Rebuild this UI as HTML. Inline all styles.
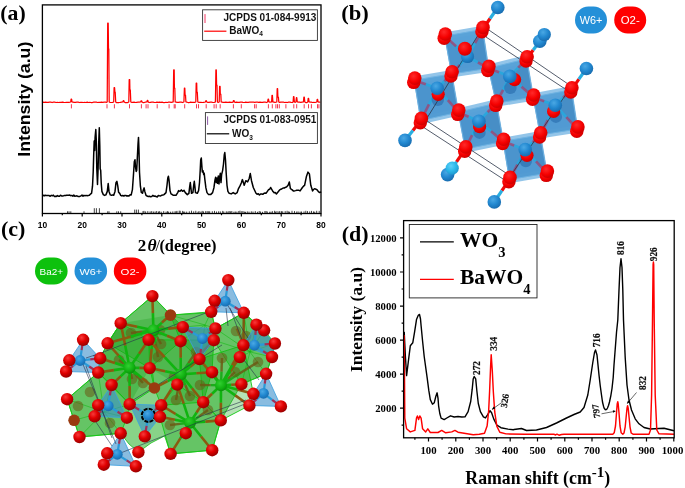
<!DOCTYPE html>
<html><head><meta charset="utf-8"><title>Figure</title>
<style>html,body{margin:0;padding:0;background:#fff;}svg{display:block}</style></head>
<body>
<svg width="685" height="488" viewBox="0 0 685 488">
<rect width="685" height="488" fill="#fff"/>
<defs>
<radialGradient id="gR" cx="0.4" cy="0.35" r="0.7"><stop offset="0" stop-color="#ff2a2a"/><stop offset="0.6" stop-color="#f50000"/><stop offset="1" stop-color="#c80000"/></radialGradient>
<radialGradient id="gR2" cx="0.38" cy="0.32" r="0.75"><stop offset="0" stop-color="#f83a3a"/><stop offset="0.45" stop-color="#e00000"/><stop offset="1" stop-color="#8c0000"/></radialGradient>
<radialGradient id="gB" cx="0.4" cy="0.33" r="0.75"><stop offset="0" stop-color="#4aa8e4"/><stop offset="0.5" stop-color="#2288d0"/><stop offset="1" stop-color="#1666a8"/></radialGradient>
<radialGradient id="gC" cx="0.4" cy="0.33" r="0.75"><stop offset="0" stop-color="#60d0f8"/><stop offset="0.5" stop-color="#2cb8ea"/><stop offset="1" stop-color="#1a90c8"/></radialGradient>
<radialGradient id="gG" cx="0.4" cy="0.35" r="0.75"><stop offset="0" stop-color="#30d030"/><stop offset="0.6" stop-color="#10b010"/><stop offset="1" stop-color="#0a800a"/></radialGradient>
</defs>
<g id="pa">
<text x="0.3" y="19.8" font-family="Liberation Serif, Times New Roman, serif" font-weight="bold" font-size="22" textLength="25.4" lengthAdjust="spacingAndGlyphs">(a)</text>
<text transform="translate(30,156.7) rotate(-90)" font-family="Liberation Sans, Arial, sans-serif" font-weight="bold" font-size="15.7" textLength="115" lengthAdjust="spacingAndGlyphs">Intensity (a.u)</text>
<path d="M71.4 104.2V108.4M107 104.2V108.4M114.4 104.2V108.4M129.5 104.2V108.4M141.4 104.2V108.4M146.1 104.2V108.4M148 104.2V108.4M157.2 104.2V108.4M169.1 104.2V108.4M174.2 104.2V108.4M175.2 104.2V108.4M184.7 104.2V108.4M196.5 104.2V108.4M198.5 104.2V108.4M206.2 104.2V108.4M214.1 104.2V108.4M216.2 104.2V108.4M220.2 104.2V108.4M233.4 104.2V108.4M241.3 104.2V108.4M254.6 104.2V108.4M256.2 104.2V108.4M268.4 104.2V108.4M272.3 104.2V108.4M275.9 104.2V108.4M277.5 104.2V108.4M279.3 104.2V108.4M285.9 104.2V108.4M293.8 104.2V108.4M296.7 104.2V108.4M304.2 104.2V108.4M308.5 104.2V108.4M311.4 104.2V108.4M317.5 104.2V108.4M318.9 104.2V108.4" stroke="#f5203c" stroke-width="0.9" fill="none"/>
<polyline points="42.5,102.3 43,102.2 44.3,102.3 45.6,102.2 46.9,102.4 48.2,102.4 49.5,102.1 50.8,102.1 52.1,102.5 53.4,102.2 54.7,102.2 56,102.5 57.3,102.3 58.6,102.5 59.9,102.3 61.2,102.4 62.5,102.1 63.8,102.4 65.1,102.5 66.4,102.3 67.7,102.4 69,102.4 70.7,102 71.1,99 71.6,99 72,102 72.9,102.1 74.2,102.4 75.5,102.3 76.8,102.2 78.1,102.1 79.4,102.5 80.7,102.3 82,102.4 83.3,102.5 84.6,102.4 85.9,102.5 87.2,102.2 88.5,102.5 89.8,102.3 91.1,102.5 92.4,102.5 93.7,102.1 95,102.1 96.3,102.2 97.6,102.5 98.9,102.3 100.2,102.4 101.5,102.2 102.8,102.3 104.1,102.2 105.4,102.2 106.7,102.3 107.2,102 107.7,23.2 108.2,23.2 108.5,48.8 108.8,48.8 109.2,102 110,102.3 111.3,102.5 112.6,102.4 113.7,102 114.1,87.7 114.6,87.7 114.9,92 115.2,92 115.7,102 116.4,102.5 117.7,102.5 119,102.5 120.3,102.4 121.6,102.1 122.8,102 123.3,100.6 123.8,100.6 124.2,102 125.1,102.5 126.4,102.5 127.7,102.5 128.8,102 129.2,79.5 129.7,79.5 129.9,89.8 130.3,89.8 130.8,102 131.5,102.3 132.8,102.4 134.1,102.2 135.4,102.5 136.7,102.3 138,102.2 139.3,102.1 140.7,102 141.1,100.8 141.6,100.8 142,102 142.9,102.5 144.2,102.5 145.5,102.1 146.8,102 147.3,100.4 147.8,100.4 148.2,102 149.1,102.5 150.4,102.3 151.7,102.1 153,102.2 154.3,102.4 155.6,102.5 156.9,102.1 158.2,102.4 159.5,102.1 160.8,102.4 162.1,102.2 163.4,102.5 164.7,102.5 166,102.3 167.3,102.5 168.6,102.2 169.9,102.1 171.2,102.3 172.5,102.1 173.2,102 173.7,69.9 174.2,69.9 174.4,88 174.8,88 175.2,102 176,102.1 177.3,102.3 178.6,102.4 179.9,102.1 181.2,102.1 182.5,102.5 183.9,102 184.4,88 184.8,88 185.1,95 185.5,95 185.9,102 186.7,102.2 188,102.5 189.3,102.5 190.6,102.2 191.9,102.3 193.2,102.3 194.5,102.4 195.8,102 196.2,83 196.7,83 196.9,92 197.3,92 197.8,102 198.5,102.3 199.8,102.3 201.1,102.4 202.4,102.5 203.7,102.3 205.4,102 205.9,100.6 206.3,100.6 206.8,102 207.7,102.3 209,102.4 210.3,102.2 211.6,102.2 212.9,102.5 214.2,102.3 215.4,102 215.9,69.9 216.3,69.9 216.6,85 217,85 217.4,102 218.2,102.3 219.2,102 219.6,86.4 220.1,86.4 220.3,94 220.8,94 221.2,102 221.9,102.1 223.2,102.3 224.5,102.3 225.8,102.1 227.1,102.4 228.4,102.4 229.7,102.1 231,102.4 232.3,102.3 233.1,102 233.5,100.5 234,100.5 234.4,102 235.3,102.4 236.6,102.2 237.9,102.4 239.2,102.4 240.5,102.1 241.8,102.1 243.1,102.4 244.4,102.5 245.7,102.2 247,102.3 248.3,102.3 249.6,102.2 250.9,102.2 252.2,102.2 253.5,102.2 254.8,102.3 256.1,102.2 257.4,102.2 258.7,102.4 260,102.1 261.3,102.3 262.6,102.4 263.9,102.2 265.2,102.2 266.5,102.5 267.6,102 268.1,99 268.5,99 269,102 269.9,102.2 271.6,102 272,95.4 272.4,95.4 272.9,102 273.8,102.1 275.1,102.3 276.8,102 277.2,88.7 277.6,88.7 277.9,97 278.4,97 278.8,102 279.5,102.4 280.8,102.1 282.1,102.2 283.4,102.2 284.7,102.5 286,102.3 287.3,102.5 288.6,102.1 289.9,102.2 291.2,102.4 292.5,102.5 293.1,102 293.5,96.6 293.9,96.6 294.4,102 295.3,102.3 295.9,102 296.4,97.7 296.8,97.7 297.3,102 298.2,102.2 299.5,102.1 300.8,102.3 302.1,102.1 303.4,102 303.9,97 304.3,97 304.8,102 305.7,102.5 307,102.5 307.8,102 308.2,98.4 308.6,98.4 309.1,102 310,102.1 311.3,102.2 312.6,102.5 313.9,102.4 315.2,102.5 316.8,102 317.2,99.3 317.6,99.3 318.1,102 319,102.2 320.3,102.1" fill="none" stroke="#ff0000" stroke-width="1.25" stroke-linejoin="round"/>
<polyline points="42,195.4 43.1,195.2 44.1,195.9 45.1,195.2 46.1,195.4 47.2,195.5 48.2,195.5 49.2,195.6 50.2,196.3 51.3,195.3 52.3,195.8 53.3,195.1 54.3,196.4 55.4,196.2 56.4,196.4 57.4,195.6 58.4,196.2 59.5,196.2 60.5,195.2 61.5,195.9 62.5,195.9 63.6,195.7 64.6,195.4 65.6,195.5 66.6,195.2 67.7,195.3 68.7,195.2 69.7,195 70.7,195.7 71.8,195.4 72.8,196.1 73.8,195.1 74.8,196.3 75.9,196.1 76.9,195.8 77.9,196.4 78.9,196.4 79.9,196.4 80.9,195.9 82,195.1 83,196.1 84,195.3 85,195.8 86.1,195.4 87.2,195.8 88.3,195.4 89.4,195.3 90.5,194.1 91.6,193.2 92.5,186.2 93.2,172.3 93.7,154.8 94.2,140.9 94.7,150.5 95.1,137.4 95.8,129.6 96.3,140.9 96.8,168.8 97.5,184.5 98.1,168.8 98.6,146.1 99.3,127.8 99.8,146.1 100.2,168.8 100.7,170.5 101.2,182.7 101.9,191.4 103.3,194.6 104.6,195.4 105.9,194.9 107.3,191.4 108.2,183.6 109,191.4 110.3,194.9 111.4,195.2 112.6,194.9 113.7,195.3 115,191.4 116,182.7 116.9,181.3 117.8,186.2 118.6,192.3 119.7,193.4 120.7,195.3 121.7,195.9 122.7,195.5 123.8,196 124.8,195.5 125.8,195.4 126.8,196 127.9,195.7 129,195.9 130.1,194.7 131.2,194.9 132.4,189.7 133.4,175.7 134.3,161.8 135,159.7 135.5,167 136.2,171.4 136.7,170.5 137.3,158.3 138,144.4 138.5,137.4 139,151.4 139.5,172.3 140.4,186.2 141.3,192.3 142.5,193.2 143.4,189.7 144.1,187.9 144.8,191.4 146,195.3 147.1,196 148.3,196.5 149.5,196.3 150.6,196.7 151.7,196.6 152.8,195.4 153.9,196.2 155,196 156,196.6 157.2,196.9 158.3,195.6 159.5,195.8 160.7,195.9 161.8,195.2 162.9,195.1 164,194.6 166,192.6 167,185.3 167.8,177.9 168.4,176.2 169,179.9 170,190.6 171,193.9 172.2,194.5 173.3,195.3 174.6,195.2 176,195.3 177.7,192.6 178.6,190.6 180,191.3 181.3,189.9 182.6,191.3 184,190.3 185.3,192.6 187.3,194.6 188.9,193.3 189.7,186.6 190.3,182.6 190.9,187.9 191.5,193.3 192.9,192.6 193.7,185.3 194.3,181.3 194.9,186.6 195.5,192.6 197.3,193.3 198.6,190.6 199.5,182.6 200.2,170.6 200.7,160 201.3,158 201.8,165.3 202.3,172 203,170.6 203.7,174.6 204.2,173.3 204.9,179.9 205.9,187.9 207,192.6 208.6,194.6 210.6,194.6 212.6,192.6 213.9,187.9 215,179.9 215.6,177.3 216.3,182.6 217,177.9 217.6,183.3 218.3,176 219,183.9 219.6,177.3 220.3,173.3 221,182.6 221.6,174.6 222.6,170.6 223.5,164 224.3,154.6 224.8,152.6 225.5,160 226.2,173.3 227,185.3 227.9,191.3 229.2,193.3 231.2,193.9 233.2,192.6 235.2,193.9 237.2,192.6 238.5,188.6 240,185.9 241.3,183 242.4,179.6 244.2,185.3 245.8,180.7 247.6,181.9 249.2,178.5 250.3,173.5 251.5,180.7 253.3,187.5 256,193.2 257.1,194.2 258.3,193.7 259.4,195 260.5,194.1 261.6,194 262.8,194.3 263.9,193.4 265,193 266.2,193.2 268.4,189.8 269.6,189.3 270.7,187.5 273,191.6 274.1,192.8 275.2,192.5 276.4,193.9 279.8,189.8 280.9,189.2 282,188.7 283.1,188.1 284.3,188 285.4,187.3 286.5,187.1 288.1,185.3 289.3,181.9 290.4,188.7 291.9,189.6 293.3,190.9 294.5,190.9 295.6,190.6 296.7,190.2 297.9,190.3 299,190.3 300.1,190.9 302.4,187.5 303.5,186.2 304.6,185.3 306.5,176.2 308,172.1 309.4,173.9 310.8,185.3 312.6,190.9 313.7,189.3 314.8,188.7 316,189.3 317.1,189.8 318.2,191.4 319.4,192.5 321.2,192" fill="none" stroke="#000" stroke-width="1.5" stroke-linejoin="round"/>
<path d="M94.3 208.2V213M96.4 208.2V213M99.4 208.2V213M134.7 209.6V213M136.4 209.6V213M138.4 209.6V213" stroke="#111" stroke-width="0.8" fill="none"/>
<path d="M67.5 211.3V213M69 211.3V213M70.8 211.3V213M84 211.3V213M107.7 211.3V213M109 211.3V213M116.8 211.3V213M118.5 211.3V213M120.7 211.3V213M143 211.1V213M144 210.9V213M145.6 211.4V213M147.8 211.1V213M150.1 211.4V213M151.7 211.1V213M153.4 211.5V213M155.1 211.5V213M156.7 211V213M158.5 211.5V213M159.6 211.2V213M161.2 211.7V213M163.7 211.1V213M166.1 211.6V213M167.5 211.2V213M168.6 211.6V213M170.6 211.7V213M172.8 211.4V213M175 211.3V213M176.1 211.3V213M177 210.9V213M179.2 210.7V213M180.2 210.8V213M182.6 210.9V213M183.6 211.6V213M184.7 211.6V213M186.7 211.6V213M189.3 211.3V213M191.5 210.7V213M193.7 211.3V213M195.8 210.8V213M198 211.7V213M199 211.1V213M200.9 211.6V213M202.2 210.9V213M203.5 211.4V213M205.7 211.1V213M207.2 211.1V213M208.7 211.2V213M209.7 211.3V213M212.3 211.2V213M214.5 210.9V213M216.5 211.5V213M218.6 211.3V213M220.3 211.4V213M222.7 210.9V213M223.8 211.5V213M226.3 211.3V213M227.9 211.5V213M229.1 211V213M230.4 211.3V213M231.8 211V213M233.9 211.7V213M235.3 211.5V213M236.9 211.6V213M238.8 211V213M240 210.7V213M241.8 211.1V213M243 211.1V213M244.4 211.6V213M245.5 211.8V213M247.3 211.4V213M249 211.6V213M251.3 211.3V213M253 211.5V213M255.3 211.1V213M257.5 211.8V213M259.2 211V213M260.5 211.5V213M262.5 211.8V213M264.9 211V213M266.1 211V213M267.3 211.5V213M269.7 211.7V213M271 211.7V213M272.4 211.2V213M274.6 210.8V213M275.6 211.6V213M277 211.1V213M278.9 211.4V213M279.8 211.1V213M281.5 211.2V213M282.7 211.3V213M285.2 211.1V213M287.1 210.8V213M288.4 211.4V213M289.5 211.7V213M292 210.8V213M294.5 211.1V213M296.7 211.5V213M298.1 211.4V213M300.1 211.6V213M301.5 211.5V213M304 211.4V213M305.8 210.8V213M307.5 211.1V213M309.7 211.4V213M311.5 210.9V213M313.5 211.4V213M314.7 211.7V213M316.7 210.8V213M319.2 210.9V213" stroke="#111" stroke-width="0.8" fill="none"/>
<rect x="42.4" y="4.9" width="278.6" height="208.6" fill="none" stroke="#000" stroke-width="1.3"/>
<path d="M42.4 213.5V216.6M62.3 213.5V215.3M82.2 213.5V216.6M102.1 213.5V215.3M122 213.5V216.6M141.9 213.5V215.3M161.8 213.5V216.6M181.7 213.5V215.3M201.6 213.5V216.6M221.5 213.5V215.3M241.4 213.5V216.6M261.3 213.5V215.3M281.2 213.5V216.6M301.1 213.5V215.3M321 213.5V216.6" stroke="#000" stroke-width="1.2" fill="none"/>
<text x="42.4" y="228.4" text-anchor="middle" font-family="Liberation Sans, Arial, sans-serif" font-weight="bold" font-size="9.8" textLength="9.4" lengthAdjust="spacingAndGlyphs">10</text>
<text x="82.2" y="228.4" text-anchor="middle" font-family="Liberation Sans, Arial, sans-serif" font-weight="bold" font-size="9.8" textLength="9.4" lengthAdjust="spacingAndGlyphs">20</text>
<text x="122" y="228.4" text-anchor="middle" font-family="Liberation Sans, Arial, sans-serif" font-weight="bold" font-size="9.8" textLength="9.4" lengthAdjust="spacingAndGlyphs">30</text>
<text x="161.8" y="228.4" text-anchor="middle" font-family="Liberation Sans, Arial, sans-serif" font-weight="bold" font-size="9.8" textLength="9.4" lengthAdjust="spacingAndGlyphs">40</text>
<text x="201.6" y="228.4" text-anchor="middle" font-family="Liberation Sans, Arial, sans-serif" font-weight="bold" font-size="9.8" textLength="9.4" lengthAdjust="spacingAndGlyphs">50</text>
<text x="241.4" y="228.4" text-anchor="middle" font-family="Liberation Sans, Arial, sans-serif" font-weight="bold" font-size="9.8" textLength="9.4" lengthAdjust="spacingAndGlyphs">60</text>
<text x="281.2" y="228.4" text-anchor="middle" font-family="Liberation Sans, Arial, sans-serif" font-weight="bold" font-size="9.8" textLength="9.4" lengthAdjust="spacingAndGlyphs">70</text>
<text x="321" y="228.4" text-anchor="middle" font-family="Liberation Sans, Arial, sans-serif" font-weight="bold" font-size="9.8" textLength="9.4" lengthAdjust="spacingAndGlyphs">80</text>
<text y="250.8" font-family="Liberation Serif, Times New Roman, serif" font-weight="bold" font-size="17"><tspan x="137.8">2</tspan><tspan x="147.6" font-style="italic" font-size="17.5">θ</tspan><tspan x="155.6" font-weight="normal" font-size="16.5">/</tspan><tspan x="159.4" textLength="57" lengthAdjust="spacingAndGlyphs">(degree)</tspan></text>
<rect x="202.6" y="9.8" width="114.8" height="30.6" fill="#fff" stroke="#333" stroke-width="0.9"/>
<path d="M205 14.1V23" stroke="#f02050" stroke-width="0.9"/>
<path d="M204.2 31.2H226.4" stroke="#f00" stroke-width="1.2"/>
<text x="223.5" y="20.7" font-family="Liberation Sans, Arial, sans-serif" font-weight="bold" font-size="10" fill="#111">JCPDS 01-084-9913</text>
<text x="229.2" y="33.9" font-family="Liberation Sans, Arial, sans-serif" font-weight="bold" font-size="10" fill="#111">BaWO<tspan font-size="6.5" dy="2.2">4</tspan></text>
<rect x="205.4" y="112.6" width="112" height="30.9" fill="#fff" stroke="#333" stroke-width="0.9"/>
<path d="M207.6 116.4V124.9" stroke="#703090" stroke-width="0.8"/>
<path d="M206.8 133.8H229.2" stroke="#000" stroke-width="1.2"/>
<text x="223.5" y="123.1" font-family="Liberation Sans, Arial, sans-serif" font-weight="bold" font-size="10" fill="#111">JCPDS 01-083-0951</text>
<text x="232" y="137.4" font-family="Liberation Sans, Arial, sans-serif" font-weight="bold" font-size="10" fill="#111">WO<tspan font-size="6.5" dy="2.2">3</tspan></text>
</g>
<g id="pb">
<text x="341.2" y="20" font-family="Liberation Serif, Times New Roman, serif" font-weight="bold" font-size="22" textLength="27.6" lengthAdjust="spacingAndGlyphs">(b)</text>
<rect x="575" y="6.5" width="32" height="27" rx="13.5" fill="#2490d8"/>
<rect x="614.2" y="6.5" width="32" height="27" rx="13.5" fill="#ff0000"/>
<text x="591" y="23.6" text-anchor="middle" font-family="Liberation Sans, Arial, sans-serif" font-size="10.2" textLength="22.6" lengthAdjust="spacingAndGlyphs" fill="#fff">W6+</text>
<text x="630.2" y="23.6" text-anchor="middle" font-family="Liberation Sans, Arial, sans-serif" font-size="10.2" textLength="19" lengthAdjust="spacingAndGlyphs" fill="#fff">O2-</text>
<path d="M482.5 29.5L490.1 18.5" stroke="#ee0a0a" stroke-width="3.2"/>
<path d="M490.1 18.5L497.8 7.5" stroke="#2aaee0" stroke-width="3.2"/>
<path d="M526.6 58.8L533.2 50" stroke="#ee0a0a" stroke-width="3.2"/>
<path d="M533.2 50L539.8 41.2" stroke="#2aaee0" stroke-width="3.2"/>
<path d="M571.4 89.8L578.9 79.2" stroke="#ee0a0a" stroke-width="3.2"/>
<path d="M578.9 79.2L586.4 68.5" stroke="#2aaee0" stroke-width="3.2"/>
<path d="M420.9 120.5L412.9 130.4" stroke="#ee0a0a" stroke-width="3.2"/>
<path d="M412.9 130.4L405 140.4" stroke="#2aaee0" stroke-width="3.2"/>
<path d="M465.3 149L456.5 161.8" stroke="#ee0a0a" stroke-width="3.2"/>
<path d="M456.5 161.8L447.6 174.6" stroke="#2aaee0" stroke-width="3.2"/>
<path d="M509.5 179.5L501.9 190.7" stroke="#ee0a0a" stroke-width="3.2"/>
<path d="M501.9 190.7L494.3 201.9" stroke="#2aaee0" stroke-width="3.2"/>
<circle cx="497.8" cy="7.5" r="6.8" fill="url(#gB)"/>
<circle cx="539.8" cy="41.2" r="6.8" fill="url(#gB)"/>
<circle cx="586.4" cy="68.5" r="6.8" fill="url(#gB)"/>
<circle cx="405" cy="140.4" r="6.8" fill="url(#gB)"/>
<circle cx="447.6" cy="174.6" r="6.8" fill="url(#gB)"/>
<circle cx="494.3" cy="201.9" r="6.8" fill="url(#gB)"/>
<circle cx="544.3" cy="34.5" r="6.6" fill="url(#gB)"/>
<circle cx="452.2" cy="168.2" r="6.6" fill="url(#gC)"/>
<polygon points="481.3,25.9 487.2,64.7 450.4,70.3 443.6,32.5" fill="#6fb2e2" fill-opacity="0.75"/>
<polygon points="483.9,32.9 489.8,71.7 453,77.3 446.2,39.5" fill="#6fb2e2" fill-opacity="0.75"/>
<polygon points="444.8,36.1 482.5,29.5 467.5,56.5" fill="#539ed6" fill-opacity="0.9" stroke="#539ed6" stroke-width="0.4"/>
<polygon points="482.5,29.5 488.4,68.3 467.5,56.5" fill="#4189c2" fill-opacity="0.9" stroke="#4189c2" stroke-width="0.4"/>
<polygon points="488.4,68.3 451.6,73.9 467.5,56.5" fill="#4d97d0" fill-opacity="0.9" stroke="#4d97d0" stroke-width="0.4"/>
<polygon points="451.6,73.9 444.8,36.1 467.5,56.5" fill="#4690ca" fill-opacity="0.9" stroke="#4690ca" stroke-width="0.4"/>
<polygon points="482.5,29.5 488.4,68.3 451.6,73.9 444.8,36.1" fill="none" stroke="#6fb4e2" stroke-width="0.9" stroke-opacity="0.9"/>
<path d="M467.5 56.5L475 43" stroke="#2aa6dc" stroke-width="2.6"/>
<path d="M475 43L482.5 29.5" stroke="#a83a66" stroke-width="2.6" stroke-opacity="0.7"/>
<path d="M467.5 56.5L456.1 46.3" stroke="#2aa6dc" stroke-width="2.6"/>
<path d="M456.1 46.3L444.8 36.1" stroke="#a83a66" stroke-width="2.6" stroke-opacity="0.7"/>
<path d="M467.5 56.5L477.9 62.4" stroke="#2aa6dc" stroke-width="2.6"/>
<path d="M477.9 62.4L488.4 68.3" stroke="#a83a66" stroke-width="2.6" stroke-opacity="0.7"/>
<path d="M467.5 56.5L459.6 65.2" stroke="#2aa6dc" stroke-width="2.6"/>
<path d="M459.6 65.2L451.6 73.9" stroke="#a83a66" stroke-width="2.6" stroke-opacity="0.7"/>
<polygon points="450.4,70.3 457.1,108.6 419.7,116.9 413.1,76.6" fill="#6fb2e2" fill-opacity="0.75"/>
<polygon points="453,77.3 459.7,115.6 422.3,123.9 415.7,83.6" fill="#6fb2e2" fill-opacity="0.75"/>
<polygon points="414.3,80.2 451.6,73.9 437.2,88.3" fill="#539ed6" fill-opacity="0.9" stroke="#539ed6" stroke-width="0.4"/>
<polygon points="451.6,73.9 458.3,112.2 437.2,88.3" fill="#4189c2" fill-opacity="0.9" stroke="#4189c2" stroke-width="0.4"/>
<polygon points="458.3,112.2 420.9,120.5 437.2,88.3" fill="#4d97d0" fill-opacity="0.9" stroke="#4d97d0" stroke-width="0.4"/>
<polygon points="420.9,120.5 414.3,80.2 437.2,88.3" fill="#4690ca" fill-opacity="0.9" stroke="#4690ca" stroke-width="0.4"/>
<polygon points="451.6,73.9 458.3,112.2 420.9,120.5 414.3,80.2" fill="none" stroke="#6fb4e2" stroke-width="0.9" stroke-opacity="0.9"/>
<path d="M437.2 88.3L444.4 81.1" stroke="#2aa6dc" stroke-width="2.6"/>
<path d="M444.4 81.1L451.6 73.9" stroke="#a83a66" stroke-width="2.6" stroke-opacity="0.7"/>
<path d="M437.2 88.3L425.8 84.2" stroke="#2aa6dc" stroke-width="2.6"/>
<path d="M425.8 84.2L414.3 80.2" stroke="#a83a66" stroke-width="2.6" stroke-opacity="0.7"/>
<path d="M437.2 88.3L447.8 100.2" stroke="#2aa6dc" stroke-width="2.6"/>
<path d="M447.8 100.2L458.3 112.2" stroke="#a83a66" stroke-width="2.6" stroke-opacity="0.7"/>
<path d="M437.2 88.3L429 104.4" stroke="#2aa6dc" stroke-width="2.6"/>
<path d="M429 104.4L420.9 120.5" stroke="#a83a66" stroke-width="2.6" stroke-opacity="0.7"/>
<polygon points="525.4,55.2 532,93.5 495.1,99.6 487.2,64.7" fill="#6fb2e2" fill-opacity="0.75"/>
<polygon points="528,62.2 534.6,100.5 497.7,106.6 489.8,71.7" fill="#6fb2e2" fill-opacity="0.75"/>
<polygon points="488.4,68.3 526.6,58.8 509.8,76.4" fill="#539ed6" fill-opacity="0.9" stroke="#539ed6" stroke-width="0.4"/>
<polygon points="526.6,58.8 533.2,97.1 509.8,76.4" fill="#4189c2" fill-opacity="0.9" stroke="#4189c2" stroke-width="0.4"/>
<polygon points="533.2,97.1 496.3,103.2 509.8,76.4" fill="#4d97d0" fill-opacity="0.9" stroke="#4d97d0" stroke-width="0.4"/>
<polygon points="496.3,103.2 488.4,68.3 509.8,76.4" fill="#4690ca" fill-opacity="0.9" stroke="#4690ca" stroke-width="0.4"/>
<polygon points="526.6,58.8 533.2,97.1 496.3,103.2 488.4,68.3" fill="none" stroke="#6fb4e2" stroke-width="0.9" stroke-opacity="0.9"/>
<path d="M509.8 76.4L518.2 67.6" stroke="#2aa6dc" stroke-width="2.6"/>
<path d="M518.2 67.6L526.6 58.8" stroke="#a83a66" stroke-width="2.6" stroke-opacity="0.7"/>
<path d="M509.8 76.4L499.1 72.3" stroke="#2aa6dc" stroke-width="2.6"/>
<path d="M499.1 72.3L488.4 68.3" stroke="#a83a66" stroke-width="2.6" stroke-opacity="0.7"/>
<path d="M509.8 76.4L521.5 86.8" stroke="#2aa6dc" stroke-width="2.6"/>
<path d="M521.5 86.8L533.2 97.1" stroke="#a83a66" stroke-width="2.6" stroke-opacity="0.7"/>
<path d="M509.8 76.4L503.1 89.8" stroke="#2aa6dc" stroke-width="2.6"/>
<path d="M503.1 89.8L496.3 103.2" stroke="#a83a66" stroke-width="2.6" stroke-opacity="0.7"/>
<polygon points="495.1,99.6 502,137.8 464.1,145.4 457.1,108.6" fill="#6fb2e2" fill-opacity="0.75"/>
<polygon points="497.7,106.6 504.6,144.8 466.7,152.4 459.7,115.6" fill="#6fb2e2" fill-opacity="0.75"/>
<polygon points="458.3,112.2 496.3,103.2 478.9,121.2" fill="#539ed6" fill-opacity="0.9" stroke="#539ed6" stroke-width="0.4"/>
<polygon points="496.3,103.2 503.2,141.4 478.9,121.2" fill="#4189c2" fill-opacity="0.9" stroke="#4189c2" stroke-width="0.4"/>
<polygon points="503.2,141.4 465.3,149 478.9,121.2" fill="#4d97d0" fill-opacity="0.9" stroke="#4d97d0" stroke-width="0.4"/>
<polygon points="465.3,149 458.3,112.2 478.9,121.2" fill="#4690ca" fill-opacity="0.9" stroke="#4690ca" stroke-width="0.4"/>
<polygon points="496.3,103.2 503.2,141.4 465.3,149 458.3,112.2" fill="none" stroke="#6fb4e2" stroke-width="0.9" stroke-opacity="0.9"/>
<path d="M478.9 121.2L487.6 112.2" stroke="#2aa6dc" stroke-width="2.6"/>
<path d="M487.6 112.2L496.3 103.2" stroke="#a83a66" stroke-width="2.6" stroke-opacity="0.7"/>
<path d="M478.9 121.2L468.6 116.7" stroke="#2aa6dc" stroke-width="2.6"/>
<path d="M468.6 116.7L458.3 112.2" stroke="#a83a66" stroke-width="2.6" stroke-opacity="0.7"/>
<path d="M478.9 121.2L491 131.3" stroke="#2aa6dc" stroke-width="2.6"/>
<path d="M491 131.3L503.2 141.4" stroke="#a83a66" stroke-width="2.6" stroke-opacity="0.7"/>
<path d="M478.9 121.2L472.1 135.1" stroke="#2aa6dc" stroke-width="2.6"/>
<path d="M472.1 135.1L465.3 149" stroke="#a83a66" stroke-width="2.6" stroke-opacity="0.7"/>
<polygon points="570.2,86.2 576.2,125.4 539,131.3 532,93.5" fill="#6fb2e2" fill-opacity="0.75"/>
<polygon points="572.8,93.2 578.8,132.4 541.6,138.3 534.6,100.5" fill="#6fb2e2" fill-opacity="0.75"/>
<polygon points="533.2,97.1 571.4,89.8 555.3,105.2" fill="#539ed6" fill-opacity="0.9" stroke="#539ed6" stroke-width="0.4"/>
<polygon points="571.4,89.8 577.4,129 555.3,105.2" fill="#4189c2" fill-opacity="0.9" stroke="#4189c2" stroke-width="0.4"/>
<polygon points="577.4,129 540.2,134.9 555.3,105.2" fill="#4d97d0" fill-opacity="0.9" stroke="#4d97d0" stroke-width="0.4"/>
<polygon points="540.2,134.9 533.2,97.1 555.3,105.2" fill="#4690ca" fill-opacity="0.9" stroke="#4690ca" stroke-width="0.4"/>
<polygon points="571.4,89.8 577.4,129 540.2,134.9 533.2,97.1" fill="none" stroke="#6fb4e2" stroke-width="0.9" stroke-opacity="0.9"/>
<path d="M555.3 105.2L563.3 97.5" stroke="#2aa6dc" stroke-width="2.6"/>
<path d="M563.3 97.5L571.4 89.8" stroke="#a83a66" stroke-width="2.6" stroke-opacity="0.7"/>
<path d="M555.3 105.2L544.2 101.2" stroke="#2aa6dc" stroke-width="2.6"/>
<path d="M544.2 101.2L533.2 97.1" stroke="#a83a66" stroke-width="2.6" stroke-opacity="0.7"/>
<path d="M555.3 105.2L566.3 117.1" stroke="#2aa6dc" stroke-width="2.6"/>
<path d="M566.3 117.1L577.4 129" stroke="#a83a66" stroke-width="2.6" stroke-opacity="0.7"/>
<path d="M555.3 105.2L547.8 120.1" stroke="#2aa6dc" stroke-width="2.6"/>
<path d="M547.8 120.1L540.2 134.9" stroke="#a83a66" stroke-width="2.6" stroke-opacity="0.7"/>
<polygon points="539,131.3 545.7,169.6 508.3,175.9 502,137.8" fill="#6fb2e2" fill-opacity="0.75"/>
<polygon points="541.6,138.3 548.3,176.6 510.9,182.9 504.6,144.8" fill="#6fb2e2" fill-opacity="0.75"/>
<polygon points="503.2,141.4 540.2,134.9 525.2,149.6" fill="#539ed6" fill-opacity="0.9" stroke="#539ed6" stroke-width="0.4"/>
<polygon points="540.2,134.9 546.9,173.2 525.2,149.6" fill="#4189c2" fill-opacity="0.9" stroke="#4189c2" stroke-width="0.4"/>
<polygon points="546.9,173.2 509.5,179.5 525.2,149.6" fill="#4d97d0" fill-opacity="0.9" stroke="#4d97d0" stroke-width="0.4"/>
<polygon points="509.5,179.5 503.2,141.4 525.2,149.6" fill="#4690ca" fill-opacity="0.9" stroke="#4690ca" stroke-width="0.4"/>
<polygon points="540.2,134.9 546.9,173.2 509.5,179.5 503.2,141.4" fill="none" stroke="#6fb4e2" stroke-width="0.9" stroke-opacity="0.9"/>
<path d="M525.2 149.6L532.7 142.2" stroke="#2aa6dc" stroke-width="2.6"/>
<path d="M532.7 142.2L540.2 134.9" stroke="#a83a66" stroke-width="2.6" stroke-opacity="0.7"/>
<path d="M525.2 149.6L514.2 145.5" stroke="#2aa6dc" stroke-width="2.6"/>
<path d="M514.2 145.5L503.2 141.4" stroke="#a83a66" stroke-width="2.6" stroke-opacity="0.7"/>
<path d="M525.2 149.6L536 161.4" stroke="#2aa6dc" stroke-width="2.6"/>
<path d="M536 161.4L546.9 173.2" stroke="#a83a66" stroke-width="2.6" stroke-opacity="0.7"/>
<path d="M525.2 149.6L517.4 164.6" stroke="#2aa6dc" stroke-width="2.6"/>
<path d="M517.4 164.6L509.5 179.5" stroke="#a83a66" stroke-width="2.6" stroke-opacity="0.7"/>
<circle cx="437.8" cy="99.8" r="6.2" fill="#2c70b0" fill-opacity="0.7"/>
<circle cx="510.4" cy="87.9" r="6.2" fill="#2c70b0" fill-opacity="0.7"/>
<circle cx="479.5" cy="132.7" r="6.2" fill="#2c70b0" fill-opacity="0.7"/>
<circle cx="555.9" cy="116.7" r="6.2" fill="#2c70b0" fill-opacity="0.7"/>
<circle cx="525.8" cy="161.1" r="6.2" fill="#2c70b0" fill-opacity="0.7"/>
<path d="M483 26L571.4 86.3" stroke="#2a3346" stroke-width="0.8" fill="none"/>
<path d="M486 37L564.3 88.4" stroke="#2a3346" stroke-width="0.8" fill="none"/>
<path d="M427 121L510.5 176" stroke="#2a3346" stroke-width="0.8" fill="none"/>
<path d="M423 127L503.4 179.2" stroke="#2a3346" stroke-width="0.8" fill="none"/>
<path d="M483 27L424 123" stroke="#2a3346" stroke-width="0.8" fill="none"/>
<path d="M571.4 86.3L510.5 176" stroke="#2a3346" stroke-width="0.8" fill="none"/>
<path d="M483 26L486 37" stroke="#2a3346" stroke-width="0.8" fill="none"/>
<path d="M571.4 86.3L564.3 88.4" stroke="#2a3346" stroke-width="0.8" fill="none"/>
<circle cx="467.5" cy="56.5" r="6.6" fill="url(#gB)"/>
<circle cx="464.9" cy="48.8" r="7" fill="url(#gR)"/>
<circle cx="438.2" cy="94.3" r="6.6" fill="url(#gR)"/>
<circle cx="437.2" cy="88.3" r="6.8" fill="url(#gB)"/>
<circle cx="514.6" cy="79.6" r="6.6" fill="url(#gR)"/>
<circle cx="509.8" cy="76.4" r="6.8" fill="url(#gB)"/>
<circle cx="479.6" cy="126.6" r="6.6" fill="url(#gR)"/>
<circle cx="478.9" cy="121.2" r="6.8" fill="url(#gB)"/>
<circle cx="553.6" cy="111.4" r="6.6" fill="url(#gR)"/>
<circle cx="555.3" cy="105.2" r="6.8" fill="url(#gB)"/>
<circle cx="527" cy="155.3" r="6.6" fill="url(#gR)"/>
<circle cx="525.2" cy="149.6" r="6.8" fill="url(#gB)"/>
<circle cx="481.9" cy="31.7" r="6.7" fill="url(#gR)"/>
<circle cx="483" cy="27.4" r="6.8" fill="url(#gR)"/>
<circle cx="444.2" cy="38.3" r="6.7" fill="url(#gR)"/>
<circle cx="445.3" cy="34" r="6.8" fill="url(#gR)"/>
<circle cx="487.8" cy="70.5" r="6.7" fill="url(#gR)"/>
<circle cx="488.9" cy="66.2" r="6.8" fill="url(#gR)"/>
<circle cx="451" cy="76.1" r="6.7" fill="url(#gR)"/>
<circle cx="452.1" cy="71.8" r="6.8" fill="url(#gR)"/>
<circle cx="413.7" cy="82.4" r="6.7" fill="url(#gR)"/>
<circle cx="414.8" cy="78.1" r="6.8" fill="url(#gR)"/>
<circle cx="526" cy="61" r="6.7" fill="url(#gR)"/>
<circle cx="527.1" cy="56.7" r="6.8" fill="url(#gR)"/>
<circle cx="420.3" cy="122.7" r="6.7" fill="url(#gR)"/>
<circle cx="421.4" cy="118.4" r="6.8" fill="url(#gR)"/>
<circle cx="457.7" cy="114.4" r="6.7" fill="url(#gR)"/>
<circle cx="458.8" cy="110.1" r="6.8" fill="url(#gR)"/>
<circle cx="495.7" cy="105.4" r="6.7" fill="url(#gR)"/>
<circle cx="496.8" cy="101.1" r="6.8" fill="url(#gR)"/>
<circle cx="532.6" cy="99.3" r="6.7" fill="url(#gR)"/>
<circle cx="533.7" cy="95" r="6.8" fill="url(#gR)"/>
<circle cx="570.8" cy="92" r="6.7" fill="url(#gR)"/>
<circle cx="571.9" cy="87.7" r="6.8" fill="url(#gR)"/>
<circle cx="464.7" cy="151.2" r="6.7" fill="url(#gR)"/>
<circle cx="465.8" cy="146.9" r="6.8" fill="url(#gR)"/>
<circle cx="502.6" cy="143.6" r="6.7" fill="url(#gR)"/>
<circle cx="503.7" cy="139.3" r="6.8" fill="url(#gR)"/>
<circle cx="539.6" cy="137.1" r="6.7" fill="url(#gR)"/>
<circle cx="540.7" cy="132.8" r="6.8" fill="url(#gR)"/>
<circle cx="576.8" cy="131.2" r="6.7" fill="url(#gR)"/>
<circle cx="577.9" cy="126.9" r="6.8" fill="url(#gR)"/>
<circle cx="508.9" cy="181.7" r="6.7" fill="url(#gR)"/>
<circle cx="510" cy="177.4" r="6.8" fill="url(#gR)"/>
<circle cx="546.3" cy="175.4" r="6.7" fill="url(#gR)"/>
<circle cx="547.4" cy="171.1" r="6.8" fill="url(#gR)"/>
</g>
<g id="pc">
<text x="1" y="236.3" font-family="Liberation Serif, Times New Roman, serif" font-weight="bold" font-size="22">(c)</text>
<rect x="35" y="257.5" width="32.6" height="27" rx="13.5" fill="#0dc10d"/>
<text x="51.3" y="274.5" text-anchor="middle" font-family="Liberation Sans, Arial, sans-serif" font-size="9.9" textLength="23.5" lengthAdjust="spacingAndGlyphs" fill="#fff">Ba2+</text>
<rect x="74.5" y="257.5" width="32.6" height="27" rx="13.5" fill="#2490d8"/>
<text x="90.8" y="274.5" text-anchor="middle" font-family="Liberation Sans, Arial, sans-serif" font-size="9.9" textLength="22.6" lengthAdjust="spacingAndGlyphs" fill="#fff">W6+</text>
<rect x="113.8" y="257.5" width="32.6" height="27" rx="13.5" fill="#ff0000"/>
<text x="130.1" y="274.5" text-anchor="middle" font-family="Liberation Sans, Arial, sans-serif" font-size="9.9" textLength="19" lengthAdjust="spacingAndGlyphs" fill="#fff">O2-</text>
<polygon points="152.4,296.1 170.5,315.1 205,313 211.2,311.8 215.4,328.5 243.8,312.8 256.4,324.7 274.9,343.5 272,357 266.1,373.8 241.4,384.2 220.8,420.4 212.2,450.2 170.6,453.9 166,440 164.5,436 151,443 138.4,452.2 129,444 120.7,433.3 79.5,437 67.1,399.2 98.2,372.5 100.2,358.3 107.6,343.3 120.7,323.2" fill="#32b432" fill-opacity="0.58" stroke="#18c018" stroke-width="0.8" stroke-linejoin="round"/>
<polygon points="107.6,343.3 120.7,323.2 152.4,296.1 182.8,327.1 180.6,341.2 149.7,368.1" fill="#1ea81e" fill-opacity="0.33" stroke="#14c814" stroke-width="0.9" stroke-linejoin="round"/>
<polygon points="98.2,372.5 100.2,358.3 107.6,343.3 120.7,323.2 148.6,339.8 154.4,388 129.7,404.2" fill="#1ea81e" fill-opacity="0.33" stroke="#14c814" stroke-width="0.9" stroke-linejoin="round"/>
<polygon points="148.6,339.8 213.8,340.2 212,372.2 203.2,402.2 161.2,405.2 154.4,388 149.7,368.1" fill="#1ea81e" fill-opacity="0.33" stroke="#14c814" stroke-width="0.9" stroke-linejoin="round"/>
<polygon points="199.5,359.1 243.4,345.2 253.4,393.8 249.4,405.5 220.8,420.4 203.2,402.2" fill="#1ea81e" fill-opacity="0.33" stroke="#14c814" stroke-width="0.9" stroke-linejoin="round"/>
<polygon points="160,416.8 161.2,405.2 177.3,384.6 203.2,402.2 220.8,420.4 212.2,450.2 170.6,453.9" fill="#1ea81e" fill-opacity="0.33" stroke="#14c814" stroke-width="0.9" stroke-linejoin="round"/>
<polygon points="67.1,399.2 98.2,372.5 111.6,385 129.7,404.2 126.9,417.7 120.7,433.3 79.5,437" fill="#1ea81e" fill-opacity="0.33" stroke="#14c814" stroke-width="0.9" stroke-linejoin="round"/>
<polygon points="213.8,340.2 215.4,328.5 243.8,312.8 264.1,330.3 274.9,343.5 272,357 266.1,373.8 241.4,384.2" fill="#1ea81e" fill-opacity="0.33" stroke="#14c814" stroke-width="0.9" stroke-linejoin="round"/>
<polygon points="170.5,315.1 211.2,311.8 215.4,328.5 213.8,340.2 199.5,359.1 180.6,341.2" fill="#1ea81e" fill-opacity="0.33" stroke="#14c814" stroke-width="0.9" stroke-linejoin="round"/>
<path d="M153.4 330.2L152.4 296.1" stroke="#12b812" stroke-width="0.7" stroke-opacity="0.8"/>
<path d="M153.4 330.2L170.5 315.1" stroke="#12b812" stroke-width="0.7" stroke-opacity="0.8"/>
<path d="M153.4 330.2L120.7 323.2" stroke="#12b812" stroke-width="0.7" stroke-opacity="0.8"/>
<path d="M153.4 330.2L182.8 327.1" stroke="#12b812" stroke-width="0.7" stroke-opacity="0.8"/>
<path d="M153.4 330.2L148.6 339.8" stroke="#12b812" stroke-width="0.7" stroke-opacity="0.8"/>
<path d="M153.4 330.2L180.6 341.2" stroke="#12b812" stroke-width="0.7" stroke-opacity="0.8"/>
<path d="M153.4 330.2L107.6 343.3" stroke="#12b812" stroke-width="0.7" stroke-opacity="0.8"/>
<path d="M153.4 330.2L149.7 368.1" stroke="#12b812" stroke-width="0.7" stroke-opacity="0.8"/>
<path d="M129.6 367.7L107.6 343.3" stroke="#12b812" stroke-width="0.7" stroke-opacity="0.8"/>
<path d="M129.6 367.7L100.2 358.3" stroke="#12b812" stroke-width="0.7" stroke-opacity="0.8"/>
<path d="M129.6 367.7L98.2 372.5" stroke="#12b812" stroke-width="0.7" stroke-opacity="0.8"/>
<path d="M129.6 367.7L120.7 323.2" stroke="#12b812" stroke-width="0.7" stroke-opacity="0.8"/>
<path d="M129.6 367.7L148.6 339.8" stroke="#12b812" stroke-width="0.7" stroke-opacity="0.8"/>
<path d="M129.6 367.7L149.7 368.1" stroke="#12b812" stroke-width="0.7" stroke-opacity="0.8"/>
<path d="M129.6 367.7L111.6 385" stroke="#12b812" stroke-width="0.7" stroke-opacity="0.8"/>
<path d="M129.6 367.7L129.7 404.2" stroke="#12b812" stroke-width="0.7" stroke-opacity="0.8"/>
<path d="M129.6 367.7L154.4 388" stroke="#12b812" stroke-width="0.7" stroke-opacity="0.8"/>
<path d="M180.8 374.4L180.6 341.2" stroke="#12b812" stroke-width="0.7" stroke-opacity="0.8"/>
<path d="M180.8 374.4L148.6 339.8" stroke="#12b812" stroke-width="0.7" stroke-opacity="0.8"/>
<path d="M180.8 374.4L149.7 368.1" stroke="#12b812" stroke-width="0.7" stroke-opacity="0.8"/>
<path d="M180.8 374.4L199.5 359.1" stroke="#12b812" stroke-width="0.7" stroke-opacity="0.8"/>
<path d="M180.8 374.4L212 372.2" stroke="#12b812" stroke-width="0.7" stroke-opacity="0.8"/>
<path d="M180.8 374.4L177.3 384.6" stroke="#12b812" stroke-width="0.7" stroke-opacity="0.8"/>
<path d="M180.8 374.4L161.2 405.2" stroke="#12b812" stroke-width="0.7" stroke-opacity="0.8"/>
<path d="M180.8 374.4L203.2 402.2" stroke="#12b812" stroke-width="0.7" stroke-opacity="0.8"/>
<path d="M180.8 374.4L154.4 388" stroke="#12b812" stroke-width="0.7" stroke-opacity="0.8"/>
<path d="M180.8 374.4L213.8 340.2" stroke="#12b812" stroke-width="0.7" stroke-opacity="0.8"/>
<path d="M221 385.2L212 372.2" stroke="#12b812" stroke-width="0.7" stroke-opacity="0.8"/>
<path d="M221 385.2L239.8 357.1" stroke="#12b812" stroke-width="0.7" stroke-opacity="0.8"/>
<path d="M221 385.2L241.4 384.2" stroke="#12b812" stroke-width="0.7" stroke-opacity="0.8"/>
<path d="M221 385.2L253.4 393.8" stroke="#12b812" stroke-width="0.7" stroke-opacity="0.8"/>
<path d="M221 385.2L203.2 402.2" stroke="#12b812" stroke-width="0.7" stroke-opacity="0.8"/>
<path d="M221 385.2L220.8 420.4" stroke="#12b812" stroke-width="0.7" stroke-opacity="0.8"/>
<path d="M221 385.2L199.5 359.1" stroke="#12b812" stroke-width="0.7" stroke-opacity="0.8"/>
<path d="M221 385.2L243.4 345.2" stroke="#12b812" stroke-width="0.7" stroke-opacity="0.8"/>
<path d="M221 385.2L249.4 405.5" stroke="#12b812" stroke-width="0.7" stroke-opacity="0.8"/>
<path d="M190 422.8L177.3 384.6" stroke="#12b812" stroke-width="0.7" stroke-opacity="0.8"/>
<path d="M190 422.8L203.2 402.2" stroke="#12b812" stroke-width="0.7" stroke-opacity="0.8"/>
<path d="M190 422.8L220.8 420.4" stroke="#12b812" stroke-width="0.7" stroke-opacity="0.8"/>
<path d="M190 422.8L161.2 405.2" stroke="#12b812" stroke-width="0.7" stroke-opacity="0.8"/>
<path d="M190 422.8L160 416.8" stroke="#12b812" stroke-width="0.7" stroke-opacity="0.8"/>
<path d="M190 422.8L185.8 433.2" stroke="#12b812" stroke-width="0.7" stroke-opacity="0.8"/>
<path d="M190 422.8L170.6 453.9" stroke="#12b812" stroke-width="0.7" stroke-opacity="0.8"/>
<path d="M190 422.8L212.2 450.2" stroke="#12b812" stroke-width="0.7" stroke-opacity="0.8"/>
<path d="M104 412L67.1 399.2" stroke="#12b812" stroke-width="0.7" stroke-opacity="0.8"/>
<path d="M104 412L111.6 385" stroke="#12b812" stroke-width="0.7" stroke-opacity="0.8"/>
<path d="M104 412L98.2 405.2" stroke="#12b812" stroke-width="0.7" stroke-opacity="0.8"/>
<path d="M104 412L94.6 416.3" stroke="#12b812" stroke-width="0.7" stroke-opacity="0.8"/>
<path d="M104 412L74.1 420.3" stroke="#12b812" stroke-width="0.7" stroke-opacity="0.8"/>
<path d="M104 412L79.5 437" stroke="#12b812" stroke-width="0.7" stroke-opacity="0.8"/>
<path d="M104 412L120.7 433.3" stroke="#12b812" stroke-width="0.7" stroke-opacity="0.8"/>
<path d="M104 412L98.2 372.5" stroke="#12b812" stroke-width="0.7" stroke-opacity="0.8"/>
<path d="M104 412L129.7 404.2" stroke="#12b812" stroke-width="0.7" stroke-opacity="0.8"/>
<path d="M104 412L126.9 417.7" stroke="#12b812" stroke-width="0.7" stroke-opacity="0.8"/>
<path d="M250 352L243.8 312.8" stroke="#12b812" stroke-width="0.7" stroke-opacity="0.8"/>
<path d="M250 352L256.4 324.7" stroke="#12b812" stroke-width="0.7" stroke-opacity="0.8"/>
<path d="M250 352L243.4 345.2" stroke="#12b812" stroke-width="0.7" stroke-opacity="0.8"/>
<path d="M250 352L274.9 343.5" stroke="#12b812" stroke-width="0.7" stroke-opacity="0.8"/>
<path d="M250 352L272 357" stroke="#12b812" stroke-width="0.7" stroke-opacity="0.8"/>
<path d="M250 352L239.8 357.1" stroke="#12b812" stroke-width="0.7" stroke-opacity="0.8"/>
<path d="M250 352L266.1 373.8" stroke="#12b812" stroke-width="0.7" stroke-opacity="0.8"/>
<path d="M250 352L241.4 384.2" stroke="#12b812" stroke-width="0.7" stroke-opacity="0.8"/>
<path d="M250 352L264.1 330.3" stroke="#12b812" stroke-width="0.7" stroke-opacity="0.8"/>
<path d="M250 352L215.4 328.5" stroke="#12b812" stroke-width="0.7" stroke-opacity="0.8"/>
<path d="M250 352L213.8 340.2" stroke="#12b812" stroke-width="0.7" stroke-opacity="0.8"/>
<path d="M205 325L170.5 315.1" stroke="#12b812" stroke-width="0.7" stroke-opacity="0.8"/>
<path d="M205 325L211.2 311.8" stroke="#12b812" stroke-width="0.7" stroke-opacity="0.8"/>
<path d="M205 325L215.4 328.5" stroke="#12b812" stroke-width="0.7" stroke-opacity="0.8"/>
<path d="M205 325L213.8 340.2" stroke="#12b812" stroke-width="0.7" stroke-opacity="0.8"/>
<path d="M205 325L182.8 327.1" stroke="#12b812" stroke-width="0.7" stroke-opacity="0.8"/>
<path d="M205 325L180.6 341.2" stroke="#12b812" stroke-width="0.7" stroke-opacity="0.8"/>
<path d="M205 325L199.5 359.1" stroke="#12b812" stroke-width="0.7" stroke-opacity="0.8"/>
<polygon points="120.7,323.2 107.6,343.3 98.2,372.5 111.6,385 129.7,404.2 149.7,368.1 177.3,384.6 203.2,402.2 212,372.2 213.8,340.2 215.4,328.5 182.8,327.1 170.5,315.1" fill="#1a9a1a" fill-opacity="0.28"/>
<path d="M153.4 330.2L142.2 331.6" stroke="#0fa80f" stroke-width="2.4" stroke-opacity="0.85"/>
<path d="M142.2 331.6L131 333" stroke="#6e5410" stroke-width="2.4" stroke-opacity="0.8"/>
<path d="M153.4 330.2L157.2 337.1" stroke="#0fa80f" stroke-width="2.4" stroke-opacity="0.85"/>
<path d="M157.2 337.1L161 344" stroke="#6e5410" stroke-width="2.4" stroke-opacity="0.8"/>
<path d="M129.6 367.7L130.8 373.4" stroke="#0fa80f" stroke-width="2.4" stroke-opacity="0.85"/>
<path d="M130.8 373.4L132 379" stroke="#6e5410" stroke-width="2.4" stroke-opacity="0.8"/>
<path d="M180.8 374.4L177.4 375.7" stroke="#0fa80f" stroke-width="2.4" stroke-opacity="0.85"/>
<path d="M177.4 375.7L174 377" stroke="#6e5410" stroke-width="2.4" stroke-opacity="0.8"/>
<path d="M153.4 330.2L155.7 343.6" stroke="#0fa80f" stroke-width="2.4" stroke-opacity="0.85"/>
<path d="M155.7 343.6L158 357" stroke="#6e5410" stroke-width="2.4" stroke-opacity="0.8"/>
<path d="M129.6 367.7L124.3 363.9" stroke="#0fa80f" stroke-width="2.4" stroke-opacity="0.85"/>
<path d="M124.3 363.9L119 360" stroke="#6e5410" stroke-width="2.4" stroke-opacity="0.8"/>
<path d="M180.8 374.4L188.4 363.2" stroke="#0fa80f" stroke-width="2.4" stroke-opacity="0.85"/>
<path d="M188.4 363.2L196 352" stroke="#6e5410" stroke-width="2.4" stroke-opacity="0.8"/>
<path d="M221 385.2L221.5 371.6" stroke="#0fa80f" stroke-width="2.4" stroke-opacity="0.85"/>
<path d="M221.5 371.6L222 358" stroke="#6e5410" stroke-width="2.4" stroke-opacity="0.8"/>
<path d="M221 385.2L239.5 373.6" stroke="#0fa80f" stroke-width="2.4" stroke-opacity="0.85"/>
<path d="M239.5 373.6L258 362" stroke="#6e5410" stroke-width="2.4" stroke-opacity="0.8"/>
<path d="M180.8 374.4L178.4 387.2" stroke="#0fa80f" stroke-width="2.4" stroke-opacity="0.85"/>
<path d="M178.4 387.2L176 400" stroke="#6e5410" stroke-width="2.4" stroke-opacity="0.8"/>
<path d="M129.6 367.7L136.3 375.4" stroke="#0fa80f" stroke-width="2.4" stroke-opacity="0.85"/>
<path d="M136.3 375.4L143 383" stroke="#6e5410" stroke-width="2.4" stroke-opacity="0.8"/>
<path d="M190 422.8L199 416.4" stroke="#0fa80f" stroke-width="2.4" stroke-opacity="0.85"/>
<path d="M199 416.4L208 410" stroke="#6e5410" stroke-width="2.4" stroke-opacity="0.8"/>
<path d="M190 422.8L180 423.9" stroke="#0fa80f" stroke-width="2.4" stroke-opacity="0.85"/>
<path d="M180 423.9L170 425" stroke="#6e5410" stroke-width="2.4" stroke-opacity="0.8"/>
<path d="M180.8 374.4L185.4 385.2" stroke="#0fa80f" stroke-width="2.4" stroke-opacity="0.85"/>
<path d="M185.4 385.2L190 396" stroke="#6e5410" stroke-width="2.4" stroke-opacity="0.8"/>
<path d="M221 385.2L228 378.6" stroke="#0fa80f" stroke-width="2.4" stroke-opacity="0.85"/>
<path d="M228 378.6L235 372" stroke="#6e5410" stroke-width="2.4" stroke-opacity="0.8"/>
<path d="M221 385.2L210.5 385.1" stroke="#0fa80f" stroke-width="2.4" stroke-opacity="0.85"/>
<path d="M210.5 385.1L200 385" stroke="#6e5410" stroke-width="2.4" stroke-opacity="0.8"/>
<path d="M153.4 330.2L156.7 330.1" stroke="#0fa80f" stroke-width="2.4" stroke-opacity="0.85"/>
<path d="M156.7 330.1L160 330" stroke="#6e5410" stroke-width="2.4" stroke-opacity="0.8"/>
<circle cx="131" cy="333" r="5.3" fill="#6a5a14" fill-opacity="0.55"/>
<circle cx="161" cy="344" r="5.3" fill="#6a5a14" fill-opacity="0.55"/>
<circle cx="132" cy="379" r="5.3" fill="#6a5a14" fill-opacity="0.55"/>
<circle cx="174" cy="377" r="5.3" fill="#6a5a14" fill-opacity="0.55"/>
<circle cx="158" cy="357" r="5.3" fill="#6a5a14" fill-opacity="0.55"/>
<circle cx="119" cy="360" r="5.3" fill="#6a5a14" fill-opacity="0.55"/>
<circle cx="196" cy="352" r="5.3" fill="#6a5a14" fill-opacity="0.55"/>
<circle cx="236" cy="331" r="5.3" fill="#6a5a14" fill-opacity="0.55"/>
<circle cx="222" cy="358" r="5.3" fill="#6a5a14" fill-opacity="0.55"/>
<circle cx="258" cy="362" r="5.3" fill="#6a5a14" fill-opacity="0.55"/>
<circle cx="176" cy="400" r="5.3" fill="#6a5a14" fill-opacity="0.55"/>
<circle cx="143" cy="383" r="5.3" fill="#6a5a14" fill-opacity="0.55"/>
<circle cx="208" cy="410" r="5.3" fill="#6a5a14" fill-opacity="0.55"/>
<circle cx="170" cy="425" r="5.3" fill="#6a5a14" fill-opacity="0.55"/>
<circle cx="190" cy="396" r="5.3" fill="#6a5a14" fill-opacity="0.55"/>
<circle cx="90" cy="392" r="5.3" fill="#6a5a14" fill-opacity="0.55"/>
<circle cx="78" cy="406" r="5.3" fill="#6a5a14" fill-opacity="0.55"/>
<circle cx="235" cy="372" r="5.3" fill="#6a5a14" fill-opacity="0.55"/>
<circle cx="246" cy="336" r="5.3" fill="#6a5a14" fill-opacity="0.55"/>
<circle cx="110" cy="423" r="5.3" fill="#6a5a14" fill-opacity="0.55"/>
<circle cx="200" cy="385" r="5.3" fill="#6a5a14" fill-opacity="0.55"/>
<circle cx="160" cy="330" r="5.3" fill="#6a5a14" fill-opacity="0.55"/>
<path d="M153.4 330.2L152.9 313.1" stroke="#10b410" stroke-width="2.6"/>
<path d="M152.9 313.1L152.4 296.1" stroke="#8a5a10" stroke-width="2.6"/>
<path d="M153.4 330.2L161.9 322.6" stroke="#10b410" stroke-width="2.6"/>
<path d="M161.9 322.6L170.5 315.1" stroke="#8a5a10" stroke-width="2.6"/>
<path d="M153.4 330.2L137.1 326.7" stroke="#10b410" stroke-width="2.6"/>
<path d="M137.1 326.7L120.7 323.2" stroke="#8a5a10" stroke-width="2.6"/>
<path d="M153.4 330.2L168.1 328.6" stroke="#10b410" stroke-width="2.6"/>
<path d="M168.1 328.6L182.8 327.1" stroke="#8a5a10" stroke-width="2.6"/>
<path d="M153.4 330.2L151 335" stroke="#10b410" stroke-width="2.6"/>
<path d="M151 335L148.6 339.8" stroke="#8a5a10" stroke-width="2.6"/>
<path d="M153.4 330.2L167 335.7" stroke="#10b410" stroke-width="2.6"/>
<path d="M167 335.7L180.6 341.2" stroke="#8a5a10" stroke-width="2.6"/>
<path d="M153.4 330.2L130.5 336.8" stroke="#10b410" stroke-width="2.6"/>
<path d="M130.5 336.8L107.6 343.3" stroke="#8a5a10" stroke-width="2.6"/>
<path d="M153.4 330.2L151.6 349.1" stroke="#10b410" stroke-width="2.6"/>
<path d="M151.6 349.1L149.7 368.1" stroke="#8a5a10" stroke-width="2.6"/>
<path d="M129.6 367.7L118.6 355.5" stroke="#10b410" stroke-width="2.6"/>
<path d="M118.6 355.5L107.6 343.3" stroke="#8a5a10" stroke-width="2.6"/>
<path d="M129.6 367.7L114.9 363" stroke="#10b410" stroke-width="2.6"/>
<path d="M114.9 363L100.2 358.3" stroke="#8a5a10" stroke-width="2.6"/>
<path d="M129.6 367.7L113.9 370.1" stroke="#10b410" stroke-width="2.6"/>
<path d="M113.9 370.1L98.2 372.5" stroke="#8a5a10" stroke-width="2.6"/>
<path d="M129.6 367.7L125.2 345.4" stroke="#10b410" stroke-width="2.6"/>
<path d="M125.2 345.4L120.7 323.2" stroke="#8a5a10" stroke-width="2.6"/>
<path d="M129.6 367.7L139.1 353.8" stroke="#10b410" stroke-width="2.6"/>
<path d="M139.1 353.8L148.6 339.8" stroke="#8a5a10" stroke-width="2.6"/>
<path d="M129.6 367.7L139.6 367.9" stroke="#10b410" stroke-width="2.6"/>
<path d="M139.6 367.9L149.7 368.1" stroke="#8a5a10" stroke-width="2.6"/>
<path d="M129.6 367.7L120.6 376.4" stroke="#10b410" stroke-width="2.6"/>
<path d="M120.6 376.4L111.6 385" stroke="#8a5a10" stroke-width="2.6"/>
<path d="M129.6 367.7L129.6 385.9" stroke="#10b410" stroke-width="2.6"/>
<path d="M129.6 385.9L129.7 404.2" stroke="#8a5a10" stroke-width="2.6"/>
<path d="M129.6 367.7L142 377.9" stroke="#10b410" stroke-width="2.6"/>
<path d="M142 377.9L154.4 388" stroke="#8a5a10" stroke-width="2.6"/>
<path d="M180.8 374.4L180.7 357.8" stroke="#10b410" stroke-width="2.6"/>
<path d="M180.7 357.8L180.6 341.2" stroke="#8a5a10" stroke-width="2.6"/>
<path d="M180.8 374.4L164.7 357.1" stroke="#10b410" stroke-width="2.6"/>
<path d="M164.7 357.1L148.6 339.8" stroke="#8a5a10" stroke-width="2.6"/>
<path d="M180.8 374.4L165.2 371.2" stroke="#10b410" stroke-width="2.6"/>
<path d="M165.2 371.2L149.7 368.1" stroke="#8a5a10" stroke-width="2.6"/>
<path d="M180.8 374.4L190.2 366.8" stroke="#10b410" stroke-width="2.6"/>
<path d="M190.2 366.8L199.5 359.1" stroke="#8a5a10" stroke-width="2.6"/>
<path d="M180.8 374.4L196.4 373.3" stroke="#10b410" stroke-width="2.6"/>
<path d="M196.4 373.3L212 372.2" stroke="#8a5a10" stroke-width="2.6"/>
<path d="M180.8 374.4L179.1 379.5" stroke="#10b410" stroke-width="2.6"/>
<path d="M179.1 379.5L177.3 384.6" stroke="#8a5a10" stroke-width="2.6"/>
<path d="M180.8 374.4L171 389.8" stroke="#10b410" stroke-width="2.6"/>
<path d="M171 389.8L161.2 405.2" stroke="#8a5a10" stroke-width="2.6"/>
<path d="M180.8 374.4L192 388.3" stroke="#10b410" stroke-width="2.6"/>
<path d="M192 388.3L203.2 402.2" stroke="#8a5a10" stroke-width="2.6"/>
<path d="M180.8 374.4L167.6 381.2" stroke="#10b410" stroke-width="2.6"/>
<path d="M167.6 381.2L154.4 388" stroke="#8a5a10" stroke-width="2.6"/>
<path d="M180.8 374.4L197.3 357.3" stroke="#10b410" stroke-width="2.6"/>
<path d="M197.3 357.3L213.8 340.2" stroke="#8a5a10" stroke-width="2.6"/>
<path d="M221 385.2L216.5 378.7" stroke="#10b410" stroke-width="2.6"/>
<path d="M216.5 378.7L212 372.2" stroke="#8a5a10" stroke-width="2.6"/>
<path d="M221 385.2L230.4 371.1" stroke="#10b410" stroke-width="2.6"/>
<path d="M230.4 371.1L239.8 357.1" stroke="#8a5a10" stroke-width="2.6"/>
<path d="M221 385.2L231.2 384.7" stroke="#10b410" stroke-width="2.6"/>
<path d="M231.2 384.7L241.4 384.2" stroke="#8a5a10" stroke-width="2.6"/>
<path d="M221 385.2L237.2 389.5" stroke="#10b410" stroke-width="2.6"/>
<path d="M237.2 389.5L253.4 393.8" stroke="#8a5a10" stroke-width="2.6"/>
<path d="M221 385.2L212.1 393.7" stroke="#10b410" stroke-width="2.6"/>
<path d="M212.1 393.7L203.2 402.2" stroke="#8a5a10" stroke-width="2.6"/>
<path d="M221 385.2L220.9 402.8" stroke="#10b410" stroke-width="2.6"/>
<path d="M220.9 402.8L220.8 420.4" stroke="#8a5a10" stroke-width="2.6"/>
<path d="M221 385.2L210.2 372.1" stroke="#10b410" stroke-width="2.6"/>
<path d="M210.2 372.1L199.5 359.1" stroke="#8a5a10" stroke-width="2.6"/>
<path d="M221 385.2L232.2 365.2" stroke="#10b410" stroke-width="2.6"/>
<path d="M232.2 365.2L243.4 345.2" stroke="#8a5a10" stroke-width="2.6"/>
<path d="M221 385.2L235.2 395.4" stroke="#10b410" stroke-width="2.6"/>
<path d="M235.2 395.4L249.4 405.5" stroke="#8a5a10" stroke-width="2.6"/>
<path d="M190 422.8L183.7 403.7" stroke="#10b410" stroke-width="2.6"/>
<path d="M183.7 403.7L177.3 384.6" stroke="#8a5a10" stroke-width="2.6"/>
<path d="M190 422.8L196.6 412.5" stroke="#10b410" stroke-width="2.6"/>
<path d="M196.6 412.5L203.2 402.2" stroke="#8a5a10" stroke-width="2.6"/>
<path d="M190 422.8L205.4 421.6" stroke="#10b410" stroke-width="2.6"/>
<path d="M205.4 421.6L220.8 420.4" stroke="#8a5a10" stroke-width="2.6"/>
<path d="M190 422.8L175.6 414" stroke="#10b410" stroke-width="2.6"/>
<path d="M175.6 414L161.2 405.2" stroke="#8a5a10" stroke-width="2.6"/>
<path d="M190 422.8L175 419.8" stroke="#10b410" stroke-width="2.6"/>
<path d="M175 419.8L160 416.8" stroke="#8a5a10" stroke-width="2.6"/>
<path d="M190 422.8L187.9 428" stroke="#10b410" stroke-width="2.6"/>
<path d="M187.9 428L185.8 433.2" stroke="#8a5a10" stroke-width="2.6"/>
<path d="M190 422.8L180.3 438.4" stroke="#10b410" stroke-width="2.6"/>
<path d="M180.3 438.4L170.6 453.9" stroke="#8a5a10" stroke-width="2.6"/>
<path d="M190 422.8L201.1 436.5" stroke="#10b410" stroke-width="2.6"/>
<path d="M201.1 436.5L212.2 450.2" stroke="#8a5a10" stroke-width="2.6"/>
<path d="M243.8 316L243.5 342" stroke="#7a5a10" stroke-width="2.5"/>
<path d="M236.7 328.7L243.5 345" stroke="#7a5a10" stroke-width="2.2" stroke-opacity="0.8"/>
<circle cx="153.4" cy="330.2" r="6" fill="url(#gG)"/>
<circle cx="129.6" cy="367.7" r="6" fill="url(#gG)"/>
<circle cx="180.8" cy="374.4" r="6" fill="url(#gG)"/>
<circle cx="221" cy="385.2" r="6" fill="url(#gG)"/>
<circle cx="190" cy="422.8" r="6" fill="url(#gG)"/>
<polygon points="66.1,371.5 69.3,360.3 83.1,339.8 100.2,358.3 98.2,372.5" fill="#3a8fcc" fill-opacity="0.6" stroke="#3aa0e0" stroke-width="0.8" stroke-linejoin="round"/>
<path d="M80.1 360.5L81.6 350.1" stroke="#2a9ad8" stroke-width="2.2"/>
<path d="M81.6 350.1L83.1 339.8" stroke="#a03058" stroke-width="2.2"/>
<path d="M80.1 360.5L74.7 360.4" stroke="#2a9ad8" stroke-width="2.2"/>
<path d="M74.7 360.4L69.3 360.3" stroke="#a03058" stroke-width="2.2"/>
<path d="M80.1 360.5L73.1 366" stroke="#2a9ad8" stroke-width="2.2"/>
<path d="M73.1 366L66.1 371.5" stroke="#a03058" stroke-width="2.2"/>
<path d="M80.1 360.5L90.2 359.4" stroke="#2a9ad8" stroke-width="2.2"/>
<path d="M90.2 359.4L100.2 358.3" stroke="#a03058" stroke-width="2.2"/>
<path d="M80.1 360.5L89.2 366.5" stroke="#2a9ad8" stroke-width="2.2"/>
<path d="M89.2 366.5L98.2 372.5" stroke="#a03058" stroke-width="2.2"/>
<polygon points="211.2,311.8 214.7,300.8 228.3,280.1 243.8,312.8" fill="#3a8fcc" fill-opacity="0.6" stroke="#3aa0e0" stroke-width="0.8" stroke-linejoin="round"/>
<path d="M225.3 301.2L226.8 290.6" stroke="#2a9ad8" stroke-width="2.2"/>
<path d="M226.8 290.6L228.3 280.1" stroke="#a03058" stroke-width="2.2"/>
<path d="M225.3 301.2L220 301" stroke="#2a9ad8" stroke-width="2.2"/>
<path d="M220 301L214.7 300.8" stroke="#a03058" stroke-width="2.2"/>
<path d="M225.3 301.2L218.2 306.5" stroke="#2a9ad8" stroke-width="2.2"/>
<path d="M218.2 306.5L211.2 311.8" stroke="#a03058" stroke-width="2.2"/>
<path d="M225.3 301.2L234.6 307" stroke="#2a9ad8" stroke-width="2.2"/>
<path d="M234.6 307L243.8 312.8" stroke="#a03058" stroke-width="2.2"/>
<polygon points="182.8,327.1 215.4,328.5 213.8,340.2 199.5,359.1" fill="#3a8fcc" fill-opacity="0.6" stroke="#3aa0e0" stroke-width="0.8" stroke-linejoin="round"/>
<path d="M202.5 338.5L208.9 333.5" stroke="#2a9ad8" stroke-width="2.2"/>
<path d="M208.9 333.5L215.4 328.5" stroke="#a03058" stroke-width="2.2"/>
<path d="M202.5 338.5L208.2 339.4" stroke="#2a9ad8" stroke-width="2.2"/>
<path d="M208.2 339.4L213.8 340.2" stroke="#a03058" stroke-width="2.2"/>
<path d="M202.5 338.5L201 348.8" stroke="#2a9ad8" stroke-width="2.2"/>
<path d="M201 348.8L199.5 359.1" stroke="#a03058" stroke-width="2.2"/>
<path d="M202.5 338.5L192.7 332.8" stroke="#2a9ad8" stroke-width="2.2"/>
<path d="M192.7 332.8L182.8 327.1" stroke="#a03058" stroke-width="2.2"/>
<polygon points="243.4,345.2 256.4,324.7 274.9,343.5 272,357" fill="#3a8fcc" fill-opacity="0.6" stroke="#3aa0e0" stroke-width="0.8" stroke-linejoin="round"/>
<path d="M254.4 345.2L255.4 334.9" stroke="#2a9ad8" stroke-width="2.2"/>
<path d="M255.4 334.9L256.4 324.7" stroke="#a03058" stroke-width="2.2"/>
<path d="M254.4 345.2L248.9 345.2" stroke="#2a9ad8" stroke-width="2.2"/>
<path d="M248.9 345.2L243.4 345.2" stroke="#a03058" stroke-width="2.2"/>
<path d="M254.4 345.2L264.6 344.4" stroke="#2a9ad8" stroke-width="2.2"/>
<path d="M264.6 344.4L274.9 343.5" stroke="#a03058" stroke-width="2.2"/>
<path d="M254.4 345.2L263.2 351.1" stroke="#2a9ad8" stroke-width="2.2"/>
<path d="M263.2 351.1L272 357" stroke="#a03058" stroke-width="2.2"/>
<polygon points="249.4,405.5 253.4,393.8 266.1,373.8 280.9,406.4" fill="#3a8fcc" fill-opacity="0.6" stroke="#3aa0e0" stroke-width="0.8" stroke-linejoin="round"/>
<path d="M263.5 393.3L264.8 383.6" stroke="#2a9ad8" stroke-width="2.2"/>
<path d="M264.8 383.6L266.1 373.8" stroke="#a03058" stroke-width="2.2"/>
<path d="M263.5 393.3L258.4 393.6" stroke="#2a9ad8" stroke-width="2.2"/>
<path d="M258.4 393.6L253.4 393.8" stroke="#a03058" stroke-width="2.2"/>
<path d="M263.5 393.3L256.4 399.4" stroke="#2a9ad8" stroke-width="2.2"/>
<path d="M256.4 399.4L249.4 405.5" stroke="#a03058" stroke-width="2.2"/>
<path d="M263.5 393.3L272.2 399.9" stroke="#2a9ad8" stroke-width="2.2"/>
<path d="M272.2 399.9L280.9 406.4" stroke="#a03058" stroke-width="2.2"/>
<polygon points="94.6,416.3 98.2,405.2 111.6,385 126.9,417.7" fill="#3a8fcc" fill-opacity="0.6" stroke="#3aa0e0" stroke-width="0.8" stroke-linejoin="round"/>
<path d="M108.2 405.8L109.9 395.4" stroke="#2a9ad8" stroke-width="2.2"/>
<path d="M109.9 395.4L111.6 385" stroke="#a03058" stroke-width="2.2"/>
<path d="M108.2 405.8L103.2 405.5" stroke="#2a9ad8" stroke-width="2.2"/>
<path d="M103.2 405.5L98.2 405.2" stroke="#a03058" stroke-width="2.2"/>
<path d="M108.2 405.8L101.4 411.1" stroke="#2a9ad8" stroke-width="2.2"/>
<path d="M101.4 411.1L94.6 416.3" stroke="#a03058" stroke-width="2.2"/>
<path d="M108.2 405.8L117.6 411.8" stroke="#2a9ad8" stroke-width="2.2"/>
<path d="M117.6 411.8L126.9 417.7" stroke="#a03058" stroke-width="2.2"/>
<polygon points="129.7,404.2 161.2,405.2 160,416.8 144.8,436.4" fill="#3a8fcc" fill-opacity="0.6" stroke="#3aa0e0" stroke-width="0.8" stroke-linejoin="round"/>
<path d="M148.4 415.3L139.1 409.8" stroke="#2a9ad8" stroke-width="2.2"/>
<path d="M139.1 409.8L129.7 404.2" stroke="#a03058" stroke-width="2.2"/>
<path d="M148.4 415.3L154.8 410.2" stroke="#2a9ad8" stroke-width="2.2"/>
<path d="M154.8 410.2L161.2 405.2" stroke="#a03058" stroke-width="2.2"/>
<path d="M148.4 415.3L154.2 416.1" stroke="#2a9ad8" stroke-width="2.2"/>
<path d="M154.2 416.1L160 416.8" stroke="#a03058" stroke-width="2.2"/>
<path d="M148.4 415.3L146.6 425.9" stroke="#2a9ad8" stroke-width="2.2"/>
<path d="M146.6 425.9L144.8 436.4" stroke="#a03058" stroke-width="2.2"/>
<polygon points="103.8,464.7 107.2,453.3 120.7,433.3 135.9,466.3" fill="#3a8fcc" fill-opacity="0.6" stroke="#3aa0e0" stroke-width="0.8" stroke-linejoin="round"/>
<path d="M117.3 454.3L119 443.8" stroke="#2a9ad8" stroke-width="2.2"/>
<path d="M119 443.8L120.7 433.3" stroke="#a03058" stroke-width="2.2"/>
<path d="M117.3 454.3L112.2 453.8" stroke="#2a9ad8" stroke-width="2.2"/>
<path d="M112.2 453.8L107.2 453.3" stroke="#a03058" stroke-width="2.2"/>
<path d="M117.3 454.3L110.5 459.5" stroke="#2a9ad8" stroke-width="2.2"/>
<path d="M110.5 459.5L103.8 464.7" stroke="#a03058" stroke-width="2.2"/>
<path d="M117.3 454.3L126.6 460.3" stroke="#2a9ad8" stroke-width="2.2"/>
<path d="M126.6 460.3L135.9 466.3" stroke="#a03058" stroke-width="2.2"/>
<path d="M93 356L211 311" stroke="#24304a" stroke-width="0.7" stroke-opacity="0.85"/>
<path d="M82 362L116 444" stroke="#24304a" stroke-width="0.7" stroke-opacity="0.85"/>
<path d="M86 366L112 438" stroke="#24304a" stroke-width="0.7" stroke-opacity="0.85"/>
<path d="M86 358L104 352" stroke="#24304a" stroke-width="0.7" stroke-opacity="0.85"/>
<path d="M96 422L112 446" stroke="#24304a" stroke-width="0.7" stroke-opacity="0.85"/>
<path d="M130 402L222 345" stroke="#24304a" stroke-width="0.7" stroke-opacity="0.85"/>
<path d="M118 454L250 402" stroke="#24304a" stroke-width="0.7" stroke-opacity="0.85"/>
<path d="M225 301L248 338" stroke="#24304a" stroke-width="0.7" stroke-opacity="0.85"/>
<path d="M230 308L242 340" stroke="#24304a" stroke-width="0.7" stroke-opacity="0.85"/>
<path d="M226 308L228 326" stroke="#24304a" stroke-width="0.7" stroke-opacity="0.85"/>
<path d="M244 360L259 380" stroke="#24304a" stroke-width="0.7" stroke-opacity="0.85"/>
<path d="M196 418L246 400" stroke="#24304a" stroke-width="0.7" stroke-opacity="0.85"/>
<circle cx="80.1" cy="360.5" r="5.4" fill="url(#gB)"/>
<circle cx="225.3" cy="301.2" r="5.4" fill="url(#gB)"/>
<circle cx="202.5" cy="338.5" r="5.4" fill="url(#gB)"/>
<circle cx="254.4" cy="345.2" r="5.4" fill="url(#gB)"/>
<circle cx="263.5" cy="393.3" r="5.4" fill="url(#gB)"/>
<circle cx="108.2" cy="405.8" r="5.4" fill="url(#gB)"/>
<circle cx="148.4" cy="415.3" r="5.4" fill="url(#gB)"/>
<circle cx="117.3" cy="454.3" r="5.4" fill="url(#gB)"/>
<circle cx="148.4" cy="415.3" r="6.6" fill="none" stroke="#000" stroke-width="2" stroke-dasharray="4 1.2"/>
<circle cx="264.1" cy="330.3" r="6.2" fill="url(#gR2)"/>
<circle cx="170.5" cy="315.1" r="5.8" fill="#9a3a10"/>
<circle cx="74.1" cy="420.3" r="5.8" fill="#9a3a10"/>
<circle cx="154.4" cy="388" r="5.8" fill="#9a3a10"/>
<circle cx="152.4" cy="296.1" r="6.2" fill="url(#gR2)"/>
<circle cx="120.7" cy="323.2" r="6.2" fill="url(#gR2)"/>
<circle cx="182.8" cy="327.1" r="6.2" fill="url(#gR2)"/>
<circle cx="148.6" cy="339.8" r="6.2" fill="url(#gR2)"/>
<circle cx="180.6" cy="341.2" r="6.2" fill="url(#gR2)"/>
<circle cx="83.1" cy="339.8" r="6.2" fill="url(#gR2)"/>
<circle cx="107.6" cy="343.3" r="6.2" fill="url(#gR2)"/>
<circle cx="69.3" cy="360.3" r="6.2" fill="url(#gR2)"/>
<circle cx="100.2" cy="358.3" r="6.2" fill="url(#gR2)"/>
<circle cx="66.1" cy="371.5" r="6.2" fill="url(#gR2)"/>
<circle cx="98.2" cy="372.5" r="6.2" fill="url(#gR2)"/>
<circle cx="149.7" cy="368.1" r="6.2" fill="url(#gR2)"/>
<circle cx="228.3" cy="280.1" r="6.2" fill="url(#gR2)"/>
<circle cx="214.7" cy="300.8" r="6.2" fill="url(#gR2)"/>
<circle cx="211.2" cy="311.8" r="6.2" fill="url(#gR2)"/>
<circle cx="243.8" cy="312.8" r="6.2" fill="url(#gR2)"/>
<circle cx="215.4" cy="328.5" r="6.2" fill="url(#gR2)"/>
<circle cx="256.4" cy="324.7" r="6.2" fill="url(#gR2)"/>
<circle cx="213.8" cy="340.2" r="6.2" fill="url(#gR2)"/>
<circle cx="243.4" cy="345.2" r="6.2" fill="url(#gR2)"/>
<circle cx="274.9" cy="343.5" r="6.2" fill="url(#gR2)"/>
<circle cx="272" cy="357" r="6.2" fill="url(#gR2)"/>
<circle cx="239.8" cy="357.1" r="6.2" fill="url(#gR2)"/>
<circle cx="199.5" cy="359.1" r="6.2" fill="url(#gR2)"/>
<circle cx="212" cy="372.2" r="6.2" fill="url(#gR2)"/>
<circle cx="266.1" cy="373.8" r="6.2" fill="url(#gR2)"/>
<circle cx="177.3" cy="384.6" r="6.2" fill="url(#gR2)"/>
<circle cx="241.4" cy="384.2" r="6.2" fill="url(#gR2)"/>
<circle cx="253.4" cy="393.8" r="6.2" fill="url(#gR2)"/>
<circle cx="203.2" cy="402.2" r="6.2" fill="url(#gR2)"/>
<circle cx="249.4" cy="405.5" r="6.2" fill="url(#gR2)"/>
<circle cx="280.9" cy="406.4" r="6.2" fill="url(#gR2)"/>
<circle cx="161.2" cy="405.2" r="6.2" fill="url(#gR2)"/>
<circle cx="220.8" cy="420.4" r="6.2" fill="url(#gR2)"/>
<circle cx="160" cy="416.8" r="6.2" fill="url(#gR2)"/>
<circle cx="111.6" cy="385" r="6.2" fill="url(#gR2)"/>
<circle cx="67.1" cy="399.2" r="6.2" fill="url(#gR2)"/>
<circle cx="98.2" cy="405.2" r="6.2" fill="url(#gR2)"/>
<circle cx="129.7" cy="404.2" r="6.2" fill="url(#gR2)"/>
<circle cx="94.6" cy="416.3" r="6.2" fill="url(#gR2)"/>
<circle cx="126.9" cy="417.7" r="6.2" fill="url(#gR2)"/>
<circle cx="79.5" cy="437" r="6.2" fill="url(#gR2)"/>
<circle cx="120.7" cy="433.3" r="6.2" fill="url(#gR2)"/>
<circle cx="144.8" cy="436.4" r="6.2" fill="url(#gR2)"/>
<circle cx="185.8" cy="433.2" r="6.2" fill="url(#gR2)"/>
<circle cx="107.2" cy="453.3" r="6.2" fill="url(#gR2)"/>
<circle cx="103.8" cy="464.7" r="6.2" fill="url(#gR2)"/>
<circle cx="135.9" cy="466.3" r="6.2" fill="url(#gR2)"/>
<circle cx="138.4" cy="452.2" r="6.2" fill="url(#gR2)"/>
<circle cx="170.6" cy="453.9" r="6.2" fill="url(#gR2)"/>
<circle cx="212.2" cy="450.2" r="6.2" fill="url(#gR2)"/>
</g>
<g id="pd">
<text x="341.8" y="241.2" font-family="Liberation Serif, Times New Roman, serif" font-weight="bold" font-size="22">(d)</text>
<polyline points="404.2,331.9 405.4,356.5 406.6,375.6 408.2,362.7 410.3,345.8 412.8,342.7 414.6,331.9 416.5,319.6 418.3,315.3 419.5,314.4 420.5,319 421.1,325.8 422.6,341.2 424.2,356.5 427.2,378.1 428.8,390.4 430.3,399.6 432.5,404.2 434.3,402.7 435.8,396.5 437.1,392.8 438,398.1 438.6,405.8 439.8,413.5 441.1,418.1 444.2,419.6 446.8,418 450.5,415.8 454.2,417 458,416.5 461.8,417 465,416.8 468.1,411.7 470.7,401.5 472.2,389.2 473.2,378.9 474.2,376.5 475.7,378.9 476.9,391.2 478.3,403.5 480.4,411.7 483.4,416.8 485.5,417.9 487.5,414.8 490,410.7 491.6,412.7 493.7,418.9 496.8,425 500.9,427.7 508,429.1 513.2,429.8 514,429.5 521.5,428.5 526.5,430.5 536.5,430 546.5,427.5 556.5,423 566.5,418 574,414.5 580.2,412 584,407.5 587.8,395 590.2,380 592.8,362.5 594.5,352.5 595.5,350 597,355 599,375 600.2,385.5 601.5,395 602.5,402 603.5,406.2 604.2,408.2 605.2,409.5 606,409.8 606.8,409.2 607.5,408 608.5,405.5 609.5,402 610.8,395.8 612,388.5 613.2,377.5 614,365 616.5,332.5 617.8,320 619,290 620,267.5 621,258.8 622,267.5 622.8,290 623.5,320 625.2,357.5 627,385 629,400 631.5,410 635.2,418.8 639,423.8 644,427.5 650.2,429 659,428.5 664,428.2 669,429.5 674,430.8" fill="none" stroke="#000" stroke-width="1.4" stroke-linejoin="round"/>
<polyline points="404.2,335 404.8,418.1 406.6,428.8 410.3,431.9 414.9,430.4 416.5,418.1 417.4,415.9 418.6,419.6 419.8,415.9 421.1,418.1 422.6,428.8 425.7,431.9 427.8,428.8 430.3,432.5 438,432.5 441.7,430.4 445.7,432.8 451.8,431.9 454.9,430.4 458,432.2 473.2,434.7 479.3,434.3 484.5,433.2 487.1,426.1 488.6,411.7 489.6,391.2 490.6,366.6 491.2,354.8 492.3,370.7 493.3,391.2 494.7,411.7 496.8,426.1 499.8,432.2 506,433.9 525,434.3 514,434.2 554,434.2 555.2,435 557,434.2 559,435.2 561.5,434.5 564,434.2 612.8,434.2 614.2,432.8 615.5,426 616.5,413 617.2,404 617.8,401.8 618.2,404 619,413 620,426 621.2,432.8 622.8,434.2 624,433 625.2,426.8 626.2,416.5 627,408.2 627.6,405.8 628.2,408.2 629,416.5 630,426.8 631.2,433 633,434.2 649,434.2 650.5,430 651.6,395 652.5,320 653.1,264.5 653.4,262 653.7,264.5 654.2,320 655.2,395 656.8,430 659,433.8 674,434.2" fill="none" stroke="#f00" stroke-width="1.45" stroke-linejoin="round"/>
<rect x="403.6" y="220.6" width="270.6" height="217.2" fill="none" stroke="#000" stroke-width="1.3"/>
<path d="M403.6 408.2H400M403.6 425.2H401.6M403.6 374.1H400M403.6 391.1H401.6M403.6 340.1H400M403.6 357.1H401.6M403.6 306.1H400M403.6 323.1H401.6M403.6 272H400M403.6 289H401.6M403.6 237.9H400M403.6 254.9H401.6" stroke="#000" stroke-width="1.2" fill="none"/>
<text x="396.6" y="411.8" text-anchor="end" font-family="Liberation Serif, Times New Roman, serif" font-weight="bold" font-size="10.7">2000</text>
<text x="396.6" y="377.8" text-anchor="end" font-family="Liberation Serif, Times New Roman, serif" font-weight="bold" font-size="10.7">4000</text>
<text x="396.6" y="343.7" text-anchor="end" font-family="Liberation Serif, Times New Roman, serif" font-weight="bold" font-size="10.7">6000</text>
<text x="396.6" y="309.7" text-anchor="end" font-family="Liberation Serif, Times New Roman, serif" font-weight="bold" font-size="10.7">8000</text>
<text x="396.6" y="275.6" text-anchor="end" font-family="Liberation Serif, Times New Roman, serif" font-weight="bold" font-size="10.7">10000</text>
<text x="396.6" y="241.5" text-anchor="end" font-family="Liberation Serif, Times New Roman, serif" font-weight="bold" font-size="10.7">12000</text>
<path d="M428.5 437.8V441.4M414.9 437.8V439.8M455.8 437.8V441.4M442.1 437.8V439.8M483 437.8V441.4M469.4 437.8V439.8M510.2 437.8V441.4M496.6 437.8V439.8M537.5 437.8V441.4M523.9 437.8V439.8M564.8 437.8V441.4M551.1 437.8V439.8M592 437.8V441.4M578.4 437.8V439.8M619.2 437.8V441.4M605.6 437.8V439.8M646.5 437.8V441.4M632.9 437.8V439.8M673.8 437.8V441.4M660.1 437.8V439.8" stroke="#000" stroke-width="1.2" fill="none"/>
<text x="428.5" y="453.8" text-anchor="middle" font-family="Liberation Serif, Times New Roman, serif" font-weight="bold" font-size="10.8">100</text>
<text x="455.8" y="453.8" text-anchor="middle" font-family="Liberation Serif, Times New Roman, serif" font-weight="bold" font-size="10.8">200</text>
<text x="483" y="453.8" text-anchor="middle" font-family="Liberation Serif, Times New Roman, serif" font-weight="bold" font-size="10.8">300</text>
<text x="510.2" y="453.8" text-anchor="middle" font-family="Liberation Serif, Times New Roman, serif" font-weight="bold" font-size="10.8">400</text>
<text x="537.5" y="453.8" text-anchor="middle" font-family="Liberation Serif, Times New Roman, serif" font-weight="bold" font-size="10.8">500</text>
<text x="564.8" y="453.8" text-anchor="middle" font-family="Liberation Serif, Times New Roman, serif" font-weight="bold" font-size="10.8">600</text>
<text x="592" y="453.8" text-anchor="middle" font-family="Liberation Serif, Times New Roman, serif" font-weight="bold" font-size="10.8">700</text>
<text x="619.2" y="453.8" text-anchor="middle" font-family="Liberation Serif, Times New Roman, serif" font-weight="bold" font-size="10.8">800</text>
<text x="646.5" y="453.8" text-anchor="middle" font-family="Liberation Serif, Times New Roman, serif" font-weight="bold" font-size="10.8">900</text>
<text x="672.5" y="453.8" text-anchor="middle" font-family="Liberation Serif, Times New Roman, serif" font-weight="bold" font-size="10.8">1000</text>
<text x="465.3" y="483.6" font-family="Liberation Serif, Times New Roman, serif" font-weight="bold" font-size="17.8">Raman shift (cm<tspan font-size="15" dy="-6.2">-1</tspan><tspan dy="6.2">)</tspan></text>
<text transform="translate(361.8,372) rotate(-90)" font-family="Liberation Serif, Times New Roman, serif" font-weight="bold" font-size="17.5">Intensity (a.u)</text>
<rect x="409.3" y="224.5" width="127.7" height="73.4" fill="#fff" stroke="#222" stroke-width="0.9"/>
<path d="M420 241.8H453.8" stroke="#000" stroke-width="1.3"/>
<path d="M420 279.3H453.8" stroke="#f00" stroke-width="1.3"/>
<text x="460" y="247" font-family="Liberation Serif, Times New Roman, serif" font-weight="bold" font-size="21.5">WO<tspan font-size="14.5" dy="9.8">3</tspan></text>
<text x="460" y="283.8" font-family="Liberation Serif, Times New Roman, serif" font-weight="bold" font-size="21.5">BaWO<tspan font-size="14.5" dy="9.9">4</tspan></text>
<text transform="translate(624.3,248) rotate(-90)" text-anchor="middle" font-family="Liberation Serif, Times New Roman, serif" font-weight="bold" font-size="9.3" fill="#111" stroke="#111" stroke-width="0.2">816</text>
<text transform="translate(656.8,254.3) rotate(-90)" text-anchor="middle" font-family="Liberation Serif, Times New Roman, serif" font-weight="bold" font-size="9.3" fill="#111" stroke="#111" stroke-width="0.2">926</text>
<text transform="translate(479.5,368) rotate(-90)" text-anchor="middle" font-family="Liberation Serif, Times New Roman, serif" font-weight="bold" font-size="9.3" fill="#111" stroke="#111" stroke-width="0.2">272</text>
<text transform="translate(496.5,343.8) rotate(-90)" text-anchor="middle" font-family="Liberation Serif, Times New Roman, serif" font-weight="bold" font-size="9.3" fill="#111" stroke="#111" stroke-width="0.2">334</text>
<text transform="translate(600,340.4) rotate(-90)" text-anchor="middle" font-family="Liberation Serif, Times New Roman, serif" font-weight="bold" font-size="9.3" fill="#111" stroke="#111" stroke-width="0.2">716</text>
<text transform="translate(645.5,383) rotate(-90)" text-anchor="middle" font-family="Liberation Serif, Times New Roman, serif" font-weight="bold" font-size="9.3" fill="#111" stroke="#111" stroke-width="0.2">832</text>
<text transform="translate(507.8,401.3) rotate(-81)" text-anchor="middle" font-family="Liberation Serif, Times New Roman, serif" font-weight="bold" font-size="9.3" fill="#111" stroke="#111" stroke-width="0.2">326</text>
<text transform="translate(599.2,410.6) rotate(-99)" text-anchor="middle" font-family="Liberation Serif, Times New Roman, serif" font-weight="bold" font-size="9.3" fill="#111" stroke="#111" stroke-width="0.2">797</text>
<path d="M501.8 402.5L492.6 409" stroke="#000" stroke-width="0.6"/><polygon points="491.6,409.8 495.2,408.6 493.8,406.6" fill="#000"/>
<path d="M601.5 413.8L614.5 411.4" stroke="#000" stroke-width="0.6"/><polygon points="616,411.1 612.8,410.2 613.2,412.8" fill="#000"/>
<path d="M636.5 392.5L627.6 403" stroke="#000" stroke-width="0.6"/><polygon points="626.8,404 630,402 628,400.4" fill="#000"/>
</g>
</svg>
</body></html>
